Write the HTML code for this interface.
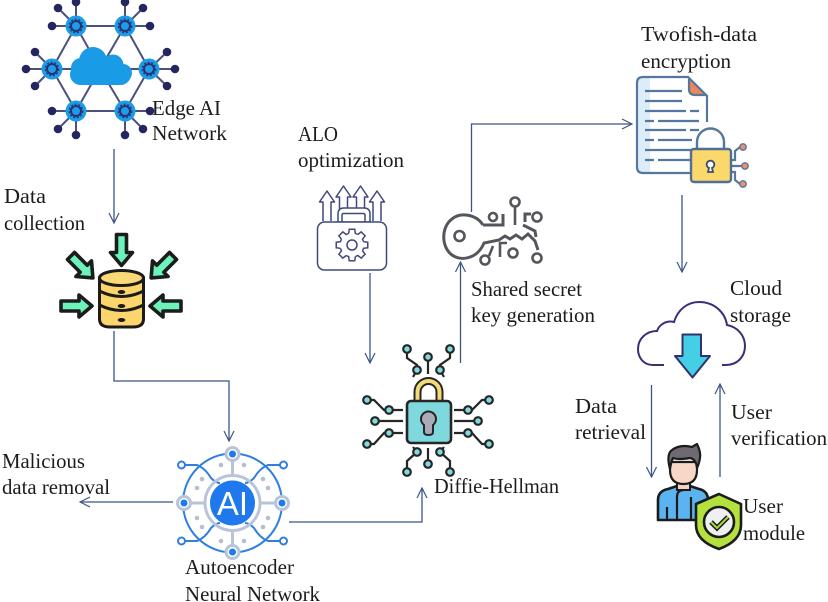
<!DOCTYPE html>
<html><head><meta charset="utf-8"><style>
html,body{margin:0;padding:0;background:#fff}
svg{display:block;filter:blur(.35px)}
text{font-family:"Liberation Serif",serif;font-size:21px;fill:#1c1c1c}
</style></head><body>
<svg width="828" height="602" viewBox="0 0 828 602" xmlns="http://www.w3.org/2000/svg">
<defs>
<marker id="a" viewBox="0 0 12 12" refX="11" refY="6" markerWidth="12" markerHeight="12" markerUnits="userSpaceOnUse" orient="auto"><path d="M1 1L11 6L1 11" fill="none" stroke="#3b5488" stroke-width="1.2"/></marker>
<g id="hub"><circle r="10.5" fill="#1d9ce8"/><circle r="5" fill="none" stroke="#2a2f70" stroke-width="2"/><circle r="6.800" fill="none" stroke="#2a2f70" stroke-width="1.200" stroke-dasharray="2 1.800"/></g>
<path id="ga" d="M-5 -17H5V1H11L0 14L-11 1H-5Z" fill="#6ef2bb" stroke="#1b1d1c" stroke-width="3.600" stroke-linejoin="round"/>
<path id="ua" d="M-4 17V-2H-7.500L0 -13L7.500 -2H4V17" fill="#fff" stroke="#3f4a7a" stroke-width="1.500" stroke-linejoin="round"/>
<path id="tooth" d="M-3.310 -11.540L-2.780 -15.760H2.780L3.310 -11.540A12 12 0 0 1 5.820 -10.500" fill="none" stroke="#3f4a7a" stroke-width="1.500"/>
</defs>

<!-- Edge network -->
<g stroke="#4b5080" stroke-width="2" fill="none">
<path d="M76 26H125L149 69L125 111H76L52 69Z"/>
<path d="M76 26L100 69L76 111M125 26L100 69L125 111M52 69H149"/>
<path d="M76 26V2M76 26L58 8M76 26H52M125 26V2M125 26L143 8M125 26H150M52 69L35 52M52 69H26M52 69L35 86M149 69L167 52M149 69H175M149 69L167 86M76 111H52M76 111L58 129M76 111V135M125 111H150M125 111L143 129M125 111V135"/>
</g>
<g fill="#23265f"><circle cx="76" cy="2" r="4.300"/><circle cx="58" cy="8" r="4.300"/><circle cx="52" cy="26" r="4.300"/><circle cx="125" cy="2" r="4.300"/><circle cx="143" cy="8" r="4.300"/><circle cx="150" cy="26" r="4.300"/><circle cx="35" cy="52" r="4.300"/><circle cx="26" cy="69" r="4.300"/><circle cx="35" cy="86" r="4.300"/><circle cx="167" cy="52" r="4.300"/><circle cx="175" cy="69" r="4.300"/><circle cx="167" cy="86" r="4.300"/><circle cx="52" cy="111" r="4.300"/><circle cx="58" cy="129" r="4.300"/><circle cx="76" cy="135" r="4.300"/><circle cx="150" cy="111" r="4.300"/><circle cx="143" cy="129" r="4.300"/><circle cx="125" cy="135" r="4.300"/></g>
<use href="#hub" x="76" y="26"/><use href="#hub" x="125" y="26"/><use href="#hub" x="52" y="69"/><use href="#hub" x="149" y="69"/><use href="#hub" x="76" y="111"/><use href="#hub" x="125" y="111"/>
<g fill="#1a9be6"><rect x="70" y="64" width="61" height="21" rx="10.500"/><circle cx="93" cy="61" r="14"/><circle cx="113" cy="65" r="10.500"/><circle cx="81" cy="68" r="10"/><circle cx="123" cy="73" r="9"/></g>

<!-- Database -->
<use href="#ga" transform="translate(121.500 251.500)"/>
<use href="#ga" transform="translate(78 306) rotate(-90)"/>
<use href="#ga" transform="translate(164 306) rotate(90)"/>
<use href="#ga" transform="translate(83 268) rotate(-45)"/>
<use href="#ga" transform="translate(161 268) rotate(45)"/>
<g stroke="#1b1b1b" stroke-width="3">
<path d="M99.500 278V319Q99.500 327 110 327H133Q143.500 327 143.500 319V278Z" fill="#fcd56c"/>
<ellipse cx="121.500" cy="278" rx="22" ry="7.500" fill="#fcd978"/>
<path d="M99.500 291Q121.500 302 143.500 291M99.500 305Q121.500 316 143.500 305" fill="none"/>
</g>
<g fill="#1b1b1b"><ellipse cx="121.500" cy="292" rx="3.800" ry="2"/><ellipse cx="121.500" cy="306" rx="3.800" ry="2"/><ellipse cx="121.500" cy="320" rx="3.800" ry="2"/></g>

<!-- AI -->
<g fill="none" stroke="#2f7fe0" stroke-width="2">
<circle cx="232.500" cy="503" r="49.500"/>
<path d="M185 465H197Q205 468 211 478Q216 483 220 483M280 465H268Q260 468 254 478Q249 483 245 483M185 541H197Q205 538 211 528Q216 523 220 523M280 541H268Q260 538 254 528Q249 523 245 523"/>
</g>
<g fill="none" stroke="#b8c5d9" stroke-width="3"><circle cx="232.500" cy="503" r="27.500"/><path d="M232.500 460V475M232.500 531V546M190 503H205M260 503H275"/></g>
<circle cx="232.500" cy="503" r="22.500" fill="#1f79ec"/>
<text x="232.500" y="515" text-anchor="middle" style="font-family:'Liberation Sans',sans-serif;font-size:33px;font-weight:normal;fill:#fff">AI</text>
<g fill="#fff" stroke="#b8c5d9" stroke-width="3"><circle cx="232.500" cy="454" r="6.500"/><circle cx="232.500" cy="552" r="6.500"/><circle cx="184" cy="503" r="6.500"/><circle cx="282" cy="503" r="6.500"/></g>
<g fill="#1f79ec"><circle cx="232.500" cy="454" r="3.500"/><circle cx="232.500" cy="552" r="3.500"/><circle cx="184" cy="503" r="3.500"/><circle cx="282" cy="503" r="3.500"/></g>
<g fill="#fff" stroke="#2f7fe0" stroke-width="2"><circle cx="181.500" cy="465" r="3.500"/><circle cx="283.500" cy="465" r="3.500"/><circle cx="181.500" cy="541" r="3.500"/><circle cx="283.500" cy="541" r="3.500"/></g>
<g fill="#b5bfce"><circle cx="221" cy="465" r="2.300"/><circle cx="244" cy="465" r="2.300"/><circle cx="221" cy="541" r="2.300"/><circle cx="244" cy="541" r="2.300"/><circle cx="202" cy="479" r="2.300"/><circle cx="197" cy="488" r="2.300"/><circle cx="263" cy="479" r="2.300"/><circle cx="268" cy="488" r="2.300"/><circle cx="197" cy="518" r="2.300"/><circle cx="202" cy="527" r="2.300"/><circle cx="268" cy="518" r="2.300"/><circle cx="263" cy="527" r="2.300"/></g>

<!-- ALO -->
<use href="#ua" transform="translate(327 204)"/>
<use href="#ua" transform="translate(377 204)"/>
<use href="#ua" transform="translate(343.500 199)"/>
<use href="#ua" transform="translate(360.500 199)"/>
<path d="M338 222V214Q338 208 344 208H364Q370 208 370 214V222Z" fill="#fff" stroke="#3f4a7a" stroke-width="1.500"/>
<rect x="342" y="213.500" width="23" height="8.500" rx="1.500" fill="#fff" stroke="#3f4a7a" stroke-width="1.500"/>
<rect x="317.500" y="222" width="69" height="48" rx="7" fill="#fff" stroke="#3f4a7a" stroke-width="1.500"/>
<g transform="translate(352 245)"><use href="#tooth"/><use href="#tooth" transform="rotate(45)"/><use href="#tooth" transform="rotate(90)"/><use href="#tooth" transform="rotate(135)"/><use href="#tooth" transform="rotate(180)"/><use href="#tooth" transform="rotate(225)"/><use href="#tooth" transform="rotate(270)"/><use href="#tooth" transform="rotate(315)"/><circle r="5" fill="none" stroke="#3f4a7a" stroke-width="1.500"/></g>

<!-- Key -->
<g fill="none" stroke="#55565c" stroke-width="2.600">
<path stroke-width="3" d="M483 225C476 214 460 212 452 219C441 227 441 247 452 255C462 262 478 258 484 243L499 240L505 236L510 239L516 235L522 239L528 234L535 241L538 250"/>
<path stroke-width="3" d="M483 225L503 225V214M525 222V214H531M523 225L535 231L536 237"/>
<circle cx="459.500" cy="236" r="5"/>
<circle cx="493" cy="217" r="4"/><circle cx="515" cy="202" r="4.500"/><circle cx="537" cy="217" r="4.500"/><circle cx="485" cy="260" r="4.500"/><circle cx="513" cy="253" r="4.500"/><circle cx="537" cy="258" r="4.500"/>
<path d="M515 207V225M500 257V243H507M493 246L489 256"/>
</g>

<!-- DH lock -->
<g fill="none" stroke="#262626" stroke-width="2.200">
<path d="M407 349V358L417 365V370M450 349V358L440 365V370M428 357V374M417 370L413 377M440 370L444 377"/>
<path d="M367 400H374L384 410H389M389 410H403M375 421H403M367 444H374L384 433H389M389 433H403"/>
<path d="M489 400H482L472 410H468M468 410H454M478 421H454M489 444H482L472 433H468M468 433H454"/>
<path d="M417 452L407 461V472M440 452L450 461V472M428 448V464M417 452L413 447M440 452L444 447"/>
</g>
<g fill="#7fdbe0" stroke="#262626" stroke-width="2.200">
<circle cx="407" cy="349" r="3.800"/><circle cx="428" cy="357" r="3.800"/><circle cx="450" cy="349" r="3.800"/><circle cx="417" cy="370" r="3.800"/><circle cx="440" cy="370" r="3.800"/>
<circle cx="367" cy="400" r="3.800"/><circle cx="389" cy="410" r="3.800"/><circle cx="375" cy="421" r="3.800"/><circle cx="367" cy="444" r="3.800"/><circle cx="389" cy="433" r="3.800"/>
<circle cx="489" cy="400" r="3.800"/><circle cx="468" cy="410" r="3.800"/><circle cx="478" cy="421" r="3.800"/><circle cx="489" cy="444" r="3.800"/><circle cx="468" cy="433" r="3.800"/>
<circle cx="417" cy="452" r="3.800"/><circle cx="440" cy="452" r="3.800"/><circle cx="428" cy="464" r="3.800"/><circle cx="407" cy="472" r="3.800"/><circle cx="450" cy="472" r="3.800"/>
</g>
<path d="M417.500 401V392A11 11 0 0 1 439.500 392V401" fill="none" stroke="#262626" stroke-width="8"/>
<path d="M417.500 401V392A11 11 0 0 1 439.500 392V401" fill="none" stroke="#f3dc78" stroke-width="4"/>
<rect x="407" y="401" width="44" height="42" rx="4" fill="#7fd8de" stroke="#262626" stroke-width="2.600"/>
<path d="M424 425A7.500 7.500 0 1 1 433 425V432Q433 435 428.500 435Q424 435 424 432Z" fill="#a9acb8" stroke="#262626" stroke-width="2"/>

<!-- Document -->
<path d="M643 77H688L707 96V173H643Q637 173 637 167V83Q637 77 643 77Z" fill="#fff"/>
<path d="M643 77H650V173H643Q637 173 637 167V83Q637 77 643 77Z" fill="#dcedf9"/>
<path d="M689 79L707 95H695Q689 95 689 89Z" fill="#ef865b"/>
<path d="M707 122V96L688 77H643Q637 77 637 83V167Q637 173 643 173H690M689 79V89Q689 95 695 95H707" fill="none" stroke="#56779d" stroke-width="2.200"/>
<g stroke="#56779d" stroke-width="2.200" fill="none">
<path d="M645 91H682M645 101H682M645 111H686M690 111H699M645 121H654M658 121H699M645 130H686M690 130H699M645 140H654M658 140H692M645 150H692M645 160H654M658 160H692"/>
<path d="M697 149V142A13 13 0 0 1 724 142V149" stroke-width="2.400"/>
<path d="M731 166H738L743 166M731 160H735V151L740 147M731 172H735V180L740 184"/>
</g>
<rect x="691" y="149" width="40" height="33" rx="3" fill="#fbd86c" stroke="#4f6f95" stroke-width="2.400"/>
<path d="M709 168A3.800 3.800 0 1 1 712 168L713 172H708Z" fill="#fff" stroke="#3d4f6b" stroke-width="1.800"/>
<g fill="#ef8f6c" stroke="#56779d" stroke-width="1.400"><circle cx="743" cy="147" r="3.200"/><circle cx="745" cy="166" r="3.200"/><circle cx="743" cy="184" r="3.200"/></g>

<!-- Cloud storage -->
<path d="M664 365H653C643 365 638 357 638 349C638 339 646 331 657 331C659 325 666 320 674 322C678 309 688 302 699 302C714 302 725 312 727 325C738 327 745 336 745 346C745 357 737 365 726 365H722" fill="none" stroke="#3a2f78" stroke-width="2"/>
<path d="M682.500 334.500H701V356H710L692.500 377.500L675 356H682.500Z" fill="#45cfe6" stroke="#33306e" stroke-width="2" stroke-linejoin="round"/>

<!-- User -->
<path d="M658 520V500Q658 491 668 489L677 486H690L699 489Q708 491 708 500V520Z" fill="#5bb4f0" stroke="#1c1c1c" stroke-width="2.600" stroke-linejoin="round"/>
<path d="M667 520V507M677 520V497Q677 490 684 490M691 520V497" fill="none" stroke="#1c1c1c" stroke-width="2.200"/>
<rect x="677" y="482" width="13" height="8" fill="#f6d3c1" stroke="#1c1c1c" stroke-width="2"/>
<path d="M670 462V470Q670 484 683.500 484Q697 484 697 470V462Z" fill="#f8d7c7" stroke="#1c1c1c" stroke-width="2.200"/>
<path d="M670 469Q666 454 672 450Q680 444 692 447L697 444Q701 452 700 458Q699 464 697 468Q696 459 690 458Q678 460 673 458Q671 462 670 469Z" fill="#6f6a72" stroke="#1c1c1c" stroke-width="2.200" stroke-linejoin="round"/>
<path d="M719 494L741 504V525Q741 541 719 549Q696 541 696 525V504Z" fill="#b5e13e" stroke="#1c1c1c" stroke-width="2.600" stroke-linejoin="round"/>
<circle cx="719" cy="522" r="15" fill="#eef0f2" stroke="#1c1c1c" stroke-width="2.600"/>
<path d="M711 522L717 528L728 517" fill="none" stroke="#1c1c1c" stroke-width="5"/>
<path d="M711 522L717 528L728 517" fill="none" stroke="#a9d63a" stroke-width="2"/>

<!-- Connectors -->
<g fill="none" stroke="#3b5488" stroke-width="1.300" marker-end="url(#a)">
<path d="M114 149V223"/>
<path d="M114 331V381H229V441"/>
<path d="M173 502H80"/>
<path d="M289 522H422V488"/>
<path d="M370 273V363"/>
<path d="M460.500 363V262"/>
<path d="M471.500 212V124H632"/>
<path d="M682 195V272"/>
<path d="M651.500 385V477"/>
<path d="M720 477V384"/>
</g>

<!-- Labels -->
<text x="152" y="115" textLength="69" lengthAdjust="spacingAndGlyphs">Edge AI</text>
<text x="152" y="140" textLength="75" lengthAdjust="spacingAndGlyphs">Network</text>
<text x="4" y="203" textLength="42" lengthAdjust="spacingAndGlyphs">Data</text>
<text x="4" y="230" textLength="81" lengthAdjust="spacingAndGlyphs">collection</text>
<text x="298" y="141" textLength="40" lengthAdjust="spacingAndGlyphs">ALO</text>
<text x="298" y="167" textLength="106" lengthAdjust="spacingAndGlyphs">optimization</text>
<text x="471" y="296" textLength="111" lengthAdjust="spacingAndGlyphs">Shared secret</text>
<text x="471" y="322" textLength="124" lengthAdjust="spacingAndGlyphs">key generation</text>
<text x="641" y="41" textLength="116" lengthAdjust="spacingAndGlyphs">Twofish-data</text>
<text x="641" y="68" textLength="90" lengthAdjust="spacingAndGlyphs">encryption</text>
<text x="730" y="295" textLength="52" lengthAdjust="spacingAndGlyphs">Cloud</text>
<text x="730" y="322" textLength="61" lengthAdjust="spacingAndGlyphs">storage</text>
<text x="575" y="413" textLength="42" lengthAdjust="spacingAndGlyphs">Data</text>
<text x="575" y="439" textLength="71" lengthAdjust="spacingAndGlyphs">retrieval</text>
<text x="731" y="419" textLength="41" lengthAdjust="spacingAndGlyphs">User</text>
<text x="731" y="445" textLength="96" lengthAdjust="spacingAndGlyphs">verification</text>
<text x="743" y="513" textLength="40" lengthAdjust="spacingAndGlyphs">User</text>
<text x="743" y="540" textLength="62" lengthAdjust="spacingAndGlyphs">module</text>
<text x="2" y="468" textLength="83" lengthAdjust="spacingAndGlyphs">Malicious</text>
<text x="2" y="494" textLength="108" lengthAdjust="spacingAndGlyphs">data removal</text>
<text x="434" y="493" textLength="125" lengthAdjust="spacingAndGlyphs">Diffie-Hellman</text>
<text x="185" y="574" textLength="109" lengthAdjust="spacingAndGlyphs">Autoencoder</text>
<text x="185" y="601" textLength="135" lengthAdjust="spacingAndGlyphs">Neural Network</text>
</svg>
</body></html>
